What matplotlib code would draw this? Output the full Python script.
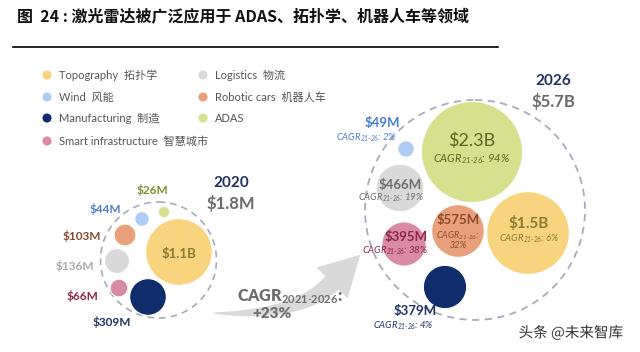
import numpy as np
import matplotlib
matplotlib.use("Agg")
import matplotlib.pyplot as plt
from matplotlib.patches import Circle, Polygon
import matplotlib.patheffects as pe

plt.rcParams['font.family'] = ['Lato', 'Noto Sans CJK SC', 'DejaVu Sans']
plt.rcParams['mathtext.fontset'] = 'custom'
plt.rcParams['mathtext.rm'] = 'Lato:italic'
plt.rcParams['mathtext.it'] = 'Lato:italic'
plt.rcParams['mathtext.bf'] = 'Lato:bold'

# data (US$ M)
segments = ['Topography', 'Wind', 'Manufacturing', 'Smart infrastructure',
            'Logistics', 'Robotic cars', 'ADAS']
segments_cn = ['拓扑学', '风能', '制造', '智慧城市', '物流', '机器人车', '']
value_2020 = [1100, 44, 309, 66, 136, 103, 26]
value_2026 = [1500, 49, 379, 395, 466, 575, 2300]
cagr_21_26 = [6, 2, 4, 38, 19, 32, 94]
total_2020 = '$1.8M'
total_2026 = '$5.7B'
cagr_total = 23

colors = ['#F8D47E', '#AFCDF3', '#0F2D6B', '#D98AA5', '#D9D9D9', '#E8A17B', '#D6E08E']
label_colors = ['#8A7A30', '#4A7FD0', '#1F3266', '#8B2548', '#A8A8A8', '#8B4A2B', '#7C8C2E']
label_colors_26 = ['#8A7A30', '#4A7FD0', '#1F3266', '#8B2548', '#6E6E6E', '#8B4A2B', '#5E6420']

# layout (pixels): circle centres and label anchors
centre_2020 = [(179, 252), (142, 219), (148, 297), (119, 288), (117, 261), (125, 235), (164, 212)]
label_2020 = [(179, 254), (105, 209), (112, 322), (83, 296), (75, 266), (82, 236), (152, 190)]
centre_2026 = [(528, 233), (406, 149), (445, 287), (404, 244), (400, 188), (458, 231), (472, 152)]
label_2026 = [(529, 223), (382, 123), (415, 311), (406, 237), (400, 185), (458, 220), (472, 141)]
cagr_pos_2026 = [(529, 239), (366, 138), (403, 326), (395, 251), (391, 198), (458, 236), (472, 159)]


def radius(v, scale):
    return scale * v ** 0.47


def money(v):
    return f'${v / 1000:.1f}B' if v >= 1000 else f'${v}M'


fig = plt.figure(figsize=(6.4, 3.52), dpi=100)
ax = fig.add_axes([0, 0, 1, 1])
ax.set_xlim(0, 640)
ax.set_ylim(352, 0)
ax.axis('off')

# title
ax.text(17, 17, '图  24 : 激光雷达被广泛应用于 ADAS、拓扑学、机器人车等领域', fontsize=11.5,
        fontweight='bold', family=['Noto Sans CJK SC'], va='center', ha='left', color='#111111')
ax.plot([13, 498], [47, 47], color='black', lw=1.2)

# legend
rows = [75, 97, 118, 141]
for i, name in enumerate(segments):
    if i < 4:
        x, y = 47, rows[i]
    else:
        x, y = 203, rows[i - 4]
    ax.add_patch(Circle((x, y), 5, color=colors[i], ec='white', lw=0.6))
    txt = name + ('  ' + segments_cn[i] if segments_cn[i] else '')
    ax.text(x + 12, y, txt, fontsize=8, color='#555555', va='center', ha='left')

# 2020 panel
ax.add_patch(Circle((158.5, 260), 58, fill=False, ec='#A5ACBA', lw=1.2, ls=(0, (4, 3))))
for i, v in enumerate(value_2020):
    ax.add_patch(Circle(centre_2020[i], radius(v, 1.24), color=colors[i], ec='white', lw=0.8))
    fs = 9.5 if v >= 1000 else 8.5
    ax.text(*label_2020[i], money(v), fontsize=fs, color=label_colors[i],
            ha='center', va='center', fontweight='bold')
ax.text(231, 183, '2020', fontsize=11, fontweight='bold', color='#1F3266', ha='center', va='center')
ax.text(231, 203, total_2020, fontsize=12, fontweight='bold', color='#6A6A6A', ha='center', va='center')

# arrow
p0, p1, p2 = np.array([212, 313]), np.array([298, 317]), np.array([332, 283])
t = np.linspace(0, 1, 60)[:, None]
pts = (1 - t) ** 2 * p0 + 2 * (1 - t) * t * p1 + t ** 2 * p2
tang = 2 * (1 - t) * (p1 - p0) + 2 * t * (p2 - p1)
tang = tang / np.linalg.norm(tang, axis=1, keepdims=True)
norm = np.column_stack([-tang[:, 1], tang[:, 0]])
w = 9.5 * t[:, 0] ** 0.7
upper = pts + norm * w[:, None]
lower = pts - norm * w[:, None]
d = tang[-1]
n = norm[-1]
tip = p2 + 40 * d
head = [p2 + n * 22, tip, p2 - n * 22]
outline = np.vstack([upper, head, lower[::-1]])
ax.add_patch(Polygon(outline, closed=True, color='#D9D9D9', lw=0))
ax.text(290, 297, r'CAGR$_{\mathbf{2021\text{-}2026}}$:', fontsize=11.5, fontweight='heavy',
        color='#6E6E6E', ha='center', va='center')
ax.text(272, 314, f'+{cagr_total}%', fontsize=11, fontweight='heavy', color='#6E6E6E',
        ha='center', va='center')

# 2026 panel
ax.add_patch(Circle((475, 210), 110, fill=False, ec='#A5ACBA', lw=1.3, ls=(0, (4, 3))))
for i, v in enumerate(value_2026):
    ax.add_patch(Circle(centre_2026[i], radius(v, 1.33), color=colors[i], ec='white', lw=0.8))
    big = v >= 2000
    fs = 13 if big else (11 if v >= 1000 else 9.5)
    ax.text(*label_2026[i], money(v), fontsize=fs, color=label_colors_26[i],
            ha='center', va='center', fontweight='bold' if not big else 'normal')
    ct = r'CAGR$_{21\text{-}26}$: ' + f'{cagr_21_26[i]}%'
    if segments[i] == 'Robotic cars':
        ax.text(*cagr_pos_2026[i], r'CAGR$_{21\text{-}26}$:', fontsize=6.5, style='italic',
                color=label_colors_26[i], ha='center', va='center')
        ax.text(cagr_pos_2026[i][0], cagr_pos_2026[i][1] + 10, f'{cagr_21_26[i]}%', fontsize=6.5,
                style='italic', color=label_colors_26[i], ha='center', va='center')
    else:
        ax.text(*cagr_pos_2026[i], ct, fontsize=8 if big else 6.8, style='italic',
                color=label_colors_26[i], ha='center', va='center')
ax.text(553, 81, '2026', fontsize=11, fontweight='bold', color='#1F3266', ha='center', va='center')
ax.text(553, 101, total_2026, fontsize=12, fontweight='bold', color='#6A6A6A', ha='center', va='center')

# watermark
ax.text(571, 333, '头条 @未来智库', fontsize=10.5, family=['Noto Sans CJK SC'], color='#333333',
        ha='center', va='center',
        path_effects=[pe.withStroke(linewidth=2.5, foreground='white')])

fig.savefig('out.png', dpi=100)
